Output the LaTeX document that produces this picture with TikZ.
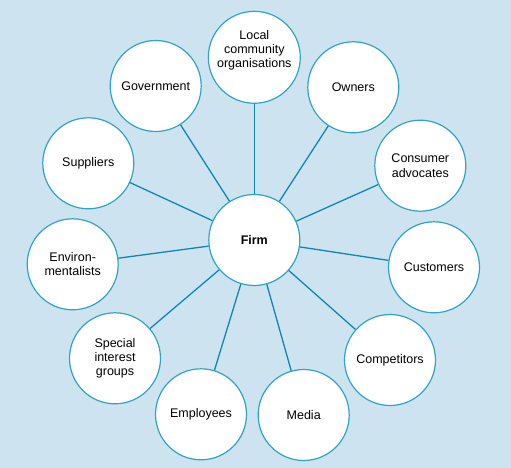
\documentclass[tikz,border=0pt]{standalone}
\usepackage{fontspec}
\setmainfont{Liberation Sans}
\usetikzlibrary{positioning}
\definecolor{bgblue}{RGB}{205,228,240}
\definecolor{ringblue}{RGB}{45,165,200}
\definecolor{spokeblue}{RGB}{15,135,180}

\begin{document}
\begin{tikzpicture}[x=1pt,y=-1pt]
   \fill[bgblue] (0,0) rectangle (511,468);
   \useasboundingbox (0,0) rectangle (511,468);
   \tikzstyle{party}=[circle, fill=white, draw=ringblue, line width=1.2pt, minimum size=91pt, inner sep=0pt, align=center, font=\fontsize{12.5}{14.2}\selectfont]
   \tikzstyle{spoke}=[draw=spokeblue, line width=1.3pt]
   \node[party] (firm) at (254.3,240) {\textbf{Firm}};
   \foreach \name/\x/\y/\word in {local/254.3/57.3/{Local\\community\\organisations\\[3pt]},
       gov/155.7/86/{Government},owners/353.3/87.3/{Owners},
       suppliers/88.3/163.3/{Suppliers},consumer/420.3/165.7/{Consumer\\advocates},
       environ/72.7/264.3/{Environ-\\mentalists},customers/434/267.3/{Customers},
       special/115/358.3/{Special\\interest\\groups},competitors/390/360/{Competitors},
       employees/201/414.3/{Employees},media/303.7/415/{Media}} {
       \node[party] (\name) at (\x,\y) {\word};
       \path[spoke] (firm) -- (\name);
   }
\end{tikzpicture}
\end{document}
